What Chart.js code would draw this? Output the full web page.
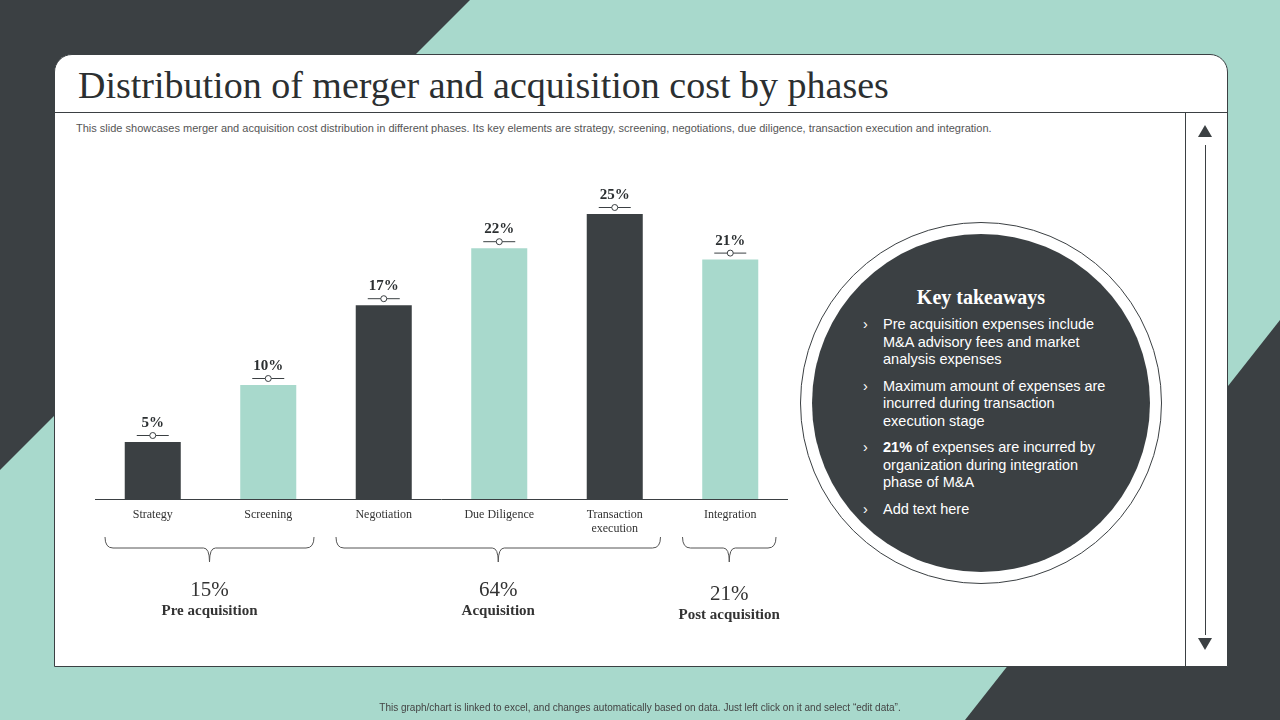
<!DOCTYPE html>
<html>
<head>
<meta charset="utf-8">
<script src="https://cdn.jsdelivr.net/npm/chart.js@4.4.1/dist/chart.umd.min.js"></script>
<style>
  body { margin:0; width:1280px; height:720px; overflow:hidden; background:#a8d9cc; font-family:"Liberation Sans", Arial, sans-serif; position:relative; }
  #bg { position:absolute; left:0; top:0; }
  #card { position:absolute; left:54px; top:54px; width:1172px; height:611px; background:#fff; border:1px solid #3b4043; border-radius:18px 18px 0 0; }
  #title { position:absolute; left:23px; top:8px; font-family:"Liberation Serif", serif; font-size:38px; color:#2b2f31; }
  #rule { position:absolute; left:0; top:57px; width:1172px; height:1px; background:#3b4043; }
  #sub { position:absolute; left:21px; top:67px; font-size:11px; color:#555; }
  #scroll { position:absolute; left:1130px; top:58px; width:1px; height:553px; background:#3b4043; }
  #scrollLine { position:absolute; left:1150px; top:90px; width:1px; height:490px; background:#3b4043; }
  .tri { position:absolute; left:1143px; width:0; height:0; border-left:7px solid transparent; border-right:7px solid transparent; }
  #triUp { top:70px; border-bottom:12px solid #3b4043; }
  #triDown { top:583px; border-top:12px solid #3b4043; }
  #chartBox { position:absolute; left:95px; top:150px; width:693px; height:480px; }
  #ring { position:absolute; left:800px; top:222px; width:362px; height:362px; border:1.5px solid #3b4043; border-radius:50%; box-sizing:border-box; }
  #disc { position:absolute; left:812px; top:234px; width:338px; height:338px; border-radius:50%; background:#3b4043; color:#fff; }
  #disc h3 { margin:0; position:absolute; top:52px; width:100%; text-align:center; font-family:"Liberation Serif", serif; font-size:20px; }
  #disc ul { position:absolute; left:50px; top:82px; width:250px; margin:0; padding:0; list-style:none; font-size:14.5px; line-height:17.5px; }
  #disc li { position:relative; padding-left:21px; margin-bottom:9px; }
  #disc li:before { content:"›"; position:absolute; left:1px; top:0; }
  #foot { position:absolute; left:0; width:1280px; top:702px; text-align:center; font-size:10px; color:#444; }
</style>
</head>
<body>
<canvas id="bg" width="1280" height="720"></canvas>
<div id="card">
  <div id="title">Distribution of merger and acquisition cost by phases</div>
  <div id="rule"></div>
  <div id="sub">This slide showcases merger and acquisition cost distribution in different phases. Its key elements are strategy, screening, negotiations, due diligence, transaction execution and integration.</div>
  <div id="scroll"></div>
  <div id="scrollLine"></div>
  <div class="tri" id="triUp"></div>
  <div class="tri" id="triDown"></div>
</div>
<div id="chartBox"><canvas id="myChart"></canvas></div>
<div id="ring"></div>
<div id="disc">
  <h3>Key takeaways</h3>
  <ul>
    <li>Pre acquisition expenses include M&amp;A advisory fees and market analysis expenses</li>
    <li>Maximum amount of expenses are incurred during transaction execution stage</li>
    <li><b>21%</b> of expenses are incurred by organization during integration phase of M&amp;A</li>
    <li>Add text here</li>
  </ul>
</div>
<div id="foot">This graph/chart is linked to excel, and changes automatically based on data. Just left click on it and select “edit data”.</div>
<script>
//phases and their share of cost
var _phases = [["Strategy"], ["Screening"], ["Negotiation"], ["Due Diligence"], ["Transaction", "execution"], ["Integration"]];
var _costShare = [5, 10, 17, 22, 25, 21];
var _barColors = ["#3b4043", "#a8d9cc", "#3b4043", "#a8d9cc", "#3b4043", "#a8d9cc"];
//groups: first index, last index, total, name
var _groupFrom = [0, 2, 5];
var _groupTo = [1, 4, 5];
var _groupTotal = ["15%", "64%", "21%"];
var _groupName = ["Pre acquisition", "Acquisition", "Post acquisition"];

//background triangles
var bg = document.getElementById("bg").getContext("2d");
bg.fillStyle = "#3b4043";
bg.beginPath(); bg.moveTo(0,0); bg.lineTo(470,0); bg.lineTo(0,470); bg.closePath(); bg.fill();
bg.beginPath(); bg.moveTo(1280,320); bg.lineTo(1280,720); bg.lineTo(965,720); bg.closePath(); bg.fill();

var dark = "#3b4043";
var serif = '"Liberation Serif", serif';

var decorPlugin = {
    id: "decor",
    afterDatasetsDraw: function(chart) {
        var c = chart.ctx;
        var x = chart.scales.x;
        var area = chart.chartArea;
        var meta = chart.getDatasetMeta(0);
        c.save();
        //baseline
        c.strokeStyle = dark; c.lineWidth = 1;
        c.beginPath(); c.moveTo(area.left, area.bottom + 0.5); c.lineTo(area.right, area.bottom + 0.5); c.stroke();
        for (var i = 0; i < meta.data.length; i++) {
            var bar = meta.data[i];
            var top = bar.y;
            //marker
            c.strokeStyle = dark; c.lineWidth = 1;
            c.beginPath(); c.moveTo(bar.x - 16, top - 6.5); c.lineTo(bar.x + 16, top - 6.5); c.stroke();
            c.fillStyle = "#fff";
            c.beginPath(); c.arc(bar.x, top - 6.5, 3, 0, Math.PI * 2); c.fill(); c.stroke();
            //value
            c.fillStyle = "#2b2f31"; c.font = "bold 15px " + serif;
            c.textAlign = "center"; c.textBaseline = "alphabetic";
            c.fillText(_costShare[i] + "%", bar.x, top - 15);
            //category
            c.font = "12px " + serif; c.fillStyle = "#333"; c.textBaseline = "middle";
            for (var k = 0; k < _phases[i].length; k++)
                c.fillText(_phases[i][k], bar.x, area.bottom + 16 + k * 14);
        }
        //brackets
        var half = (x.getPixelForValue(1) - x.getPixelForValue(0)) / 2;
        for (var g = 0; g < _groupFrom.length; g++) {
            var x1 = x.getPixelForValue(_groupFrom[g]) - half + 10;
            var x2 = x.getPixelForValue(_groupTo[g]) + half - 12;
            var mid = (x1 + x2) / 2;
            var y0 = area.bottom + 38, y1 = area.bottom + 49, y2 = area.bottom + 63;
            c.strokeStyle = "#555"; c.lineWidth = 1;
            c.beginPath();
            c.moveTo(x1, y0);
            c.quadraticCurveTo(x1, y1, x1 + 8, y1);
            c.lineTo(mid - 6, y1);
            c.quadraticCurveTo(mid, y1, mid, y2);
            c.quadraticCurveTo(mid, y1, mid + 6, y1);
            c.lineTo(x2 - 8, y1);
            c.quadraticCurveTo(x2, y1, x2, y0);
            c.stroke();
            var dy = g == 2 ? 4 : 0;
            c.fillStyle = "#333"; c.textBaseline = "middle";
            c.font = "21px " + serif;
            c.fillText(_groupTotal[g], mid, area.bottom + 91 + dy);
            c.font = "bold 15px " + serif;
            c.fillText(_groupName[g], mid, area.bottom + 112 + dy);
        }
        c.restore();
    }
};

var ctx = document.getElementById("myChart").getContext("2d");
var myChart = new Chart(ctx, {
    type: "bar",
    data: {
        labels: _phases.map(function(p) { return p.join(" "); }),
        datasets: [{
            data: _costShare,
            backgroundColor: _barColors,
            barPercentage: 0.485,
            categoryPercentage: 1
        }]
    },
    options: {
        responsive: true,
        maintainAspectRatio: false,
        animation: false,
        layout: { padding: { top: 7, bottom: 131, left: 0, right: 0 } },
        plugins: { legend: { display: false }, tooltip: { enabled: false } },
        scales: {
            x: { display: false },
            y: { display: false, min: 0, max: 30 }
        }
    },
    plugins: [decorPlugin]
});
</script>
</body>
</html>
